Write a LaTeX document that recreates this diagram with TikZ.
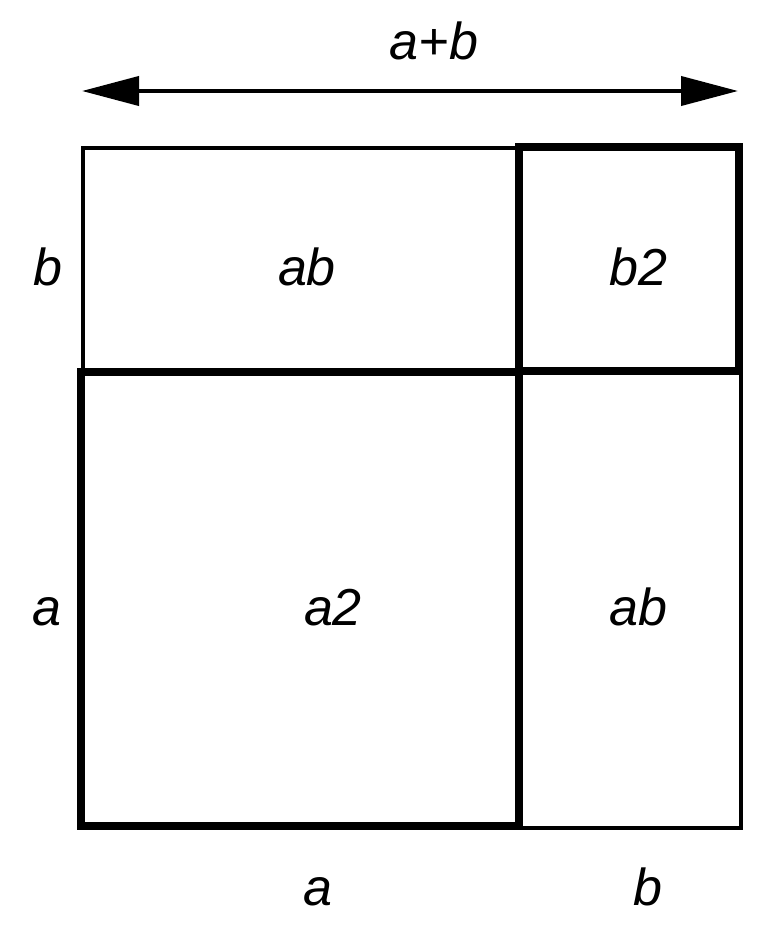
\documentclass[tikz,border=0pt]{standalone}
\usepackage{fontspec}
\setmainfont{Liberation Sans}
\usetikzlibrary{arrows.meta}
\tikzset{
  thinbox/.style={draw=black, line width=4pt},
  thickbox/.style={draw=black, line width=8pt},
  lbl/.style={anchor=base, inner sep=0pt, font=\fontsize{52}{60}\selectfont\itshape},
  dimarrow/.style={line width=4pt, {Triangle[length=57pt,width=29pt]}-{Triangle[length=57pt,width=29pt]}}
}
\begin{document}
\begin{tikzpicture}[x=1pt,y=-1pt]
\useasboundingbox (0,0) rectangle (769,939);
\fill[white] (0,0) rectangle (769,939);
% dimension arrow
\coordinate (arrL) at (82,91);
\coordinate (arrR) at (738,91);
\draw[dimarrow] (arrL) -- (arrR);
% thin rectangles
\draw[thinbox] (83,148) rectangle (519,371);
\draw[thinbox] (519,371) rectangle (741,828);
% thick squares
\draw[thickbox] (519,147) rectangle (739,371);
\draw[thickbox] (81,372) rectangle (519,826);
% labels
\node[lbl] (lab) at (434,60) {a+b};
\node[lbl] (lb) at (48,285) {b};
\node[lbl] (abtop) at (307,285) {ab};
\node[lbl] (b2) at (638,285) {b2};
\node[lbl] (la) at (47,625) {a};
\node[lbl] (a2) at (333,625) {a2};
\node[lbl] (abright) at (638,625) {ab};
\node[lbl] (ba) at (318,905) {a};
\node[lbl] (bb) at (648,905) {b};
\end{tikzpicture}
\end{document}
